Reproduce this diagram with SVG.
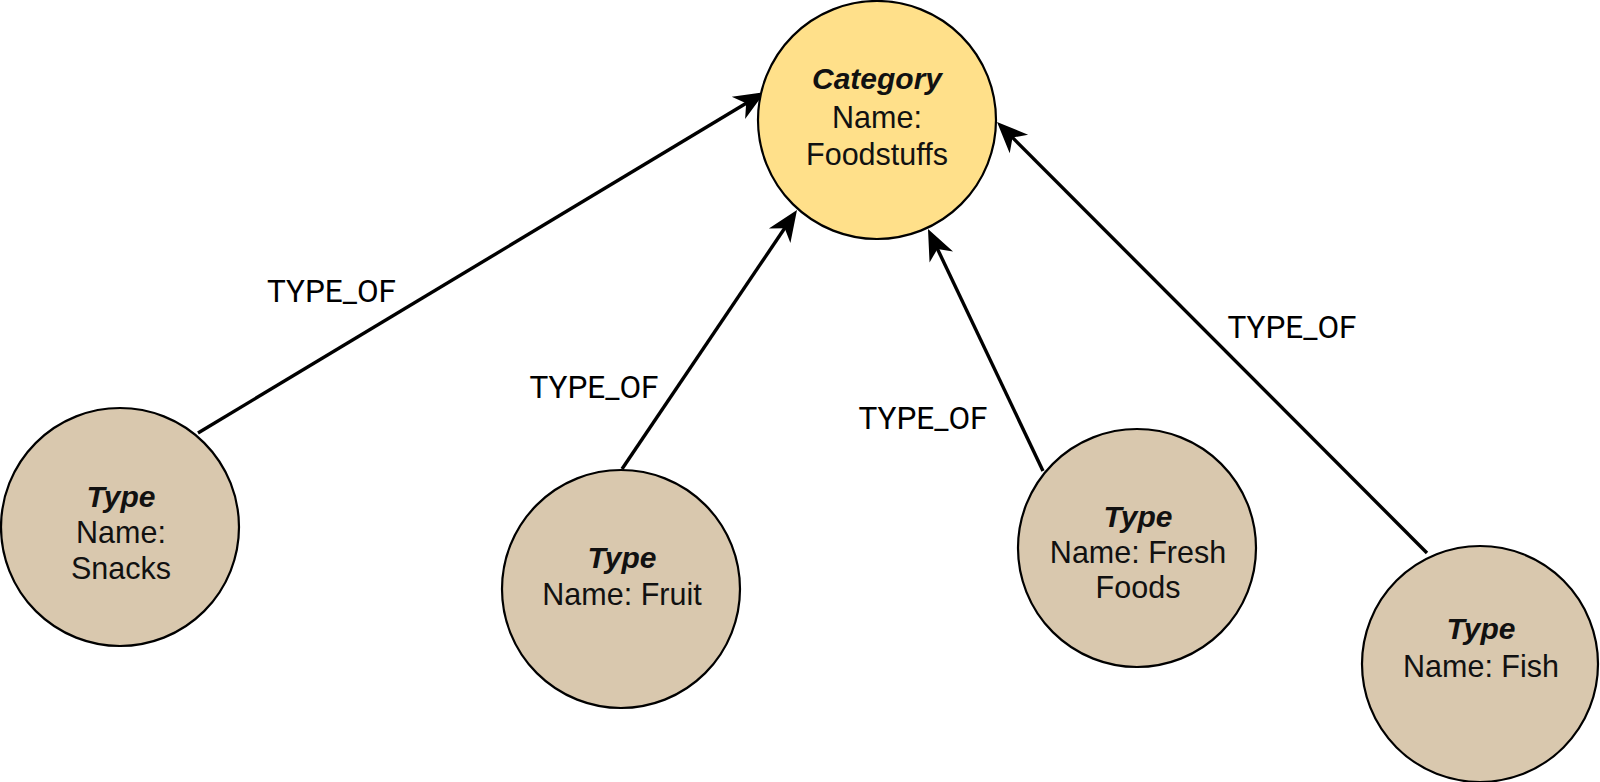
<svg xmlns="http://www.w3.org/2000/svg" width="1600" height="782" viewBox="0 0 1600 782">
<style>
.cat{fill:#FFE08A;stroke:#000;stroke-width:2.2}
.typ{fill:#D9C8AE;stroke:#000;stroke-width:2.2}
.t{font-family:"Liberation Sans",Arial,sans-serif;font-size:30.5px;fill:#111;text-anchor:middle}
.b{font-weight:bold;font-style:italic;font-size:30px}
.e{fill:none;stroke:#000;stroke-width:3.4;marker-end:url(#arr)}
.lbl{font-family:Roboto,"Liberation Sans",sans-serif;font-size:31.5px;fill:#000;text-anchor:middle}
</style>
<defs>
<marker id="arr" markerUnits="userSpaceOnUse" markerWidth="60" markerHeight="40" viewBox="-15 -20 40 40" refX="0" refY="0" orient="auto" overflow="visible">
<path d="M20,0 L-11,-13 L-2,0 L-11,13 Z" fill="#000"/>
</marker>
</defs>
<rect width="1600" height="782" fill="#fff"/>
<g id="connectors">
<path class="e" d="M198,433 L747.86,102.31"/>
<path class="e" d="M622,469 L785.8,226.57"/>
<path class="e" d="M1043,471 L936.58,247.07"/>
<path class="e" d="M1427,553 L1011.13,136.16"/>
<text class="lbl" x="331.5" y="302">TYPE_OF</text>
<text class="lbl" x="594" y="398">TYPE_OF</text>
<text class="lbl" x="923" y="429">TYPE_OF</text>
<text class="lbl" x="1292" y="338">TYPE_OF</text>
</g>
<g id="category">
<circle class="cat" cx="877" cy="120" r="119"/>
<text class="t b" x="877" y="89">Category</text>
<text class="t" x="877" y="128">Name:</text>
<text class="t" x="877" y="165">Foodstuffs</text>
</g>
<g id="snacks">
<circle class="typ" cx="120" cy="527" r="119"/>
<text class="t b" x="121" y="507">Type</text>
<text class="t" x="121" y="543">Name:</text>
<text class="t" x="121" y="579">Snacks</text>
</g>
<g id="fruit">
<circle class="typ" cx="621" cy="589" r="119"/>
<text class="t b" x="622" y="568">Type</text>
<text class="t" x="622" y="605">Name: Fruit</text>
</g>
<g id="freshfoods">
<circle class="typ" cx="1137" cy="548" r="119"/>
<text class="t b" x="1138" y="527">Type</text>
<text class="t" x="1138" y="563">Name: Fresh</text>
<text class="t" x="1138" y="598">Foods</text>
</g>
<g id="fish">
<circle class="typ" cx="1480" cy="664" r="118"/>
<text class="t b" x="1481" y="639">Type</text>
<text class="t" x="1481" y="677">Name: Fish</text>
</g>
</svg>
